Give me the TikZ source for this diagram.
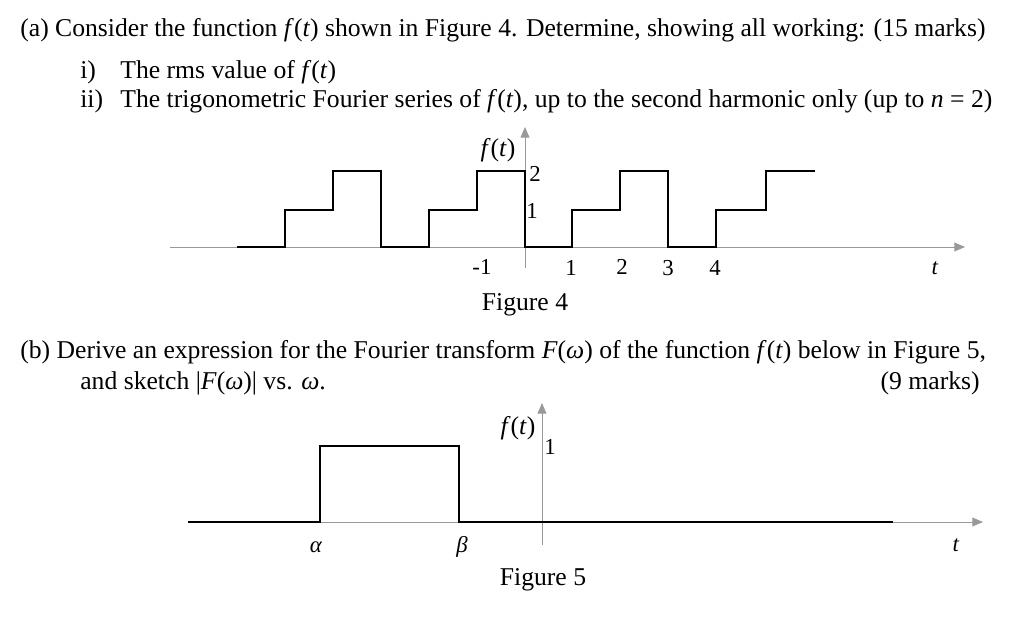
\documentclass[tikz,border=0pt]{standalone}
\usepackage{fontspec}
\setmainfont{Liberation Serif}
\usetikzlibrary{arrows.meta}
\begin{document}
\begin{tikzpicture}[x=0.02cm,y=-0.02cm,
  txt/.style={inner sep=0pt,font=\fontsize{14.6}{17}\selectfont},
  small/.style={inner sep=0pt,font=\fontsize{13}{15}\selectfont},
  axis/.style={draw=gray!80,line width=0.5pt,-{Triangle[length=6pt,width=5pt]}},
  sig/.style={line width=1.4pt,line join=miter}]
\useasboundingbox (0,0) rectangle (1024,621);
\node[txt,anchor=west] (qa) at (20,30) {(a) Consider the function \textit{f}(\textit{t}) shown in Figure 4. Determine, showing all working: (15 marks)};
\node[txt,anchor=west] (i1) at (80,72) {i)};
\node[txt,anchor=west] (i2) at (120,72) {The rms value of \textit{f}(\textit{t})};
\node[txt,anchor=west] (ii1) at (80,101) {ii)};
\node[txt,anchor=west] (ii2) at (120,101) {The trigonometric Fourier series of \textit{f}(\textit{t}), up to the second harmonic only (up to \textit{n} = 2)};
% Figure 4
\coordinate (x0) at (170,247); \coordinate (x1) at (965,247);
\coordinate (y0) at (525,268); \coordinate (y1) at (525,127);
\draw[axis] (x0) -- (x1);
\draw[axis] (y0) -- (y1);
\draw[sig] (237,247) -- (285,247) -- (285,210) -- (333,210) -- (333,171) -- (381,171) -- (381,247) -- (429,247) -- (429,210) -- (477,210) -- (477,171) -- (525,171) -- (525,247) -- (572,247) -- (572,210) -- (620,210) -- (620,171) -- (668,171) -- (668,247) -- (716,247) -- (716,210) -- (766,210) -- (766,171) -- (815,171);
\node[txt] (ft4) at (498,150) {\textit{f}(\textit{t})};
\node[small] (l2) at (535,174) {2};
\node[small] (l1) at (532,211) {1};
\node[small] (tm1) at (482,267) {-1};
\node[small] (t1) at (571,268) {1};
\node[small] (t2) at (622,267) {2};
\node[small] (t3) at (668,268) {3};
\node[small] (t4) at (715,268) {4};
\node[small] (tt4) at (935,268) {\textit{t}};
\node[txt] (fig4) at (525,305) {Figure 4};
% (b)
\node[txt,anchor=west] (qb) at (20,352) {(b) Derive an expression for the Fourier transform \textit{F}(\textit{ω}) of the function \textit{f}(\textit{t}) below in Figure 5,};
\node[txt,anchor=west] (qb2) at (80,383) {and sketch |\textit{F}(\textit{ω})| vs. \textit{ω}.};
\node[txt,anchor=east] (mk) at (980,383) {(9 marks)};
% Figure 5
\coordinate (u0) at (188,522); \coordinate (u1) at (983,522);
\coordinate (v0) at (542,545); \coordinate (v1) at (542,403);
\draw[axis] (u0) -- (u1);
\draw[axis] (v0) -- (v1);
\draw[sig] (188,522) -- (320,522) -- (320,446) -- (459,446) -- (459,522) -- (893,522);
\node[txt] (ft5) at (518,428) {\textit{f}(\textit{t})};
\node[small] (one) at (550,447) {1};
\node[small] (al) at (316,547) {\textit{α}};
\node[small] (be) at (462,547) {\textit{β}};
\node[small] (tt5) at (956,545) {\textit{t}};
\node[txt] (fig5) at (543,580) {Figure 5};
\end{tikzpicture}
\end{document}
